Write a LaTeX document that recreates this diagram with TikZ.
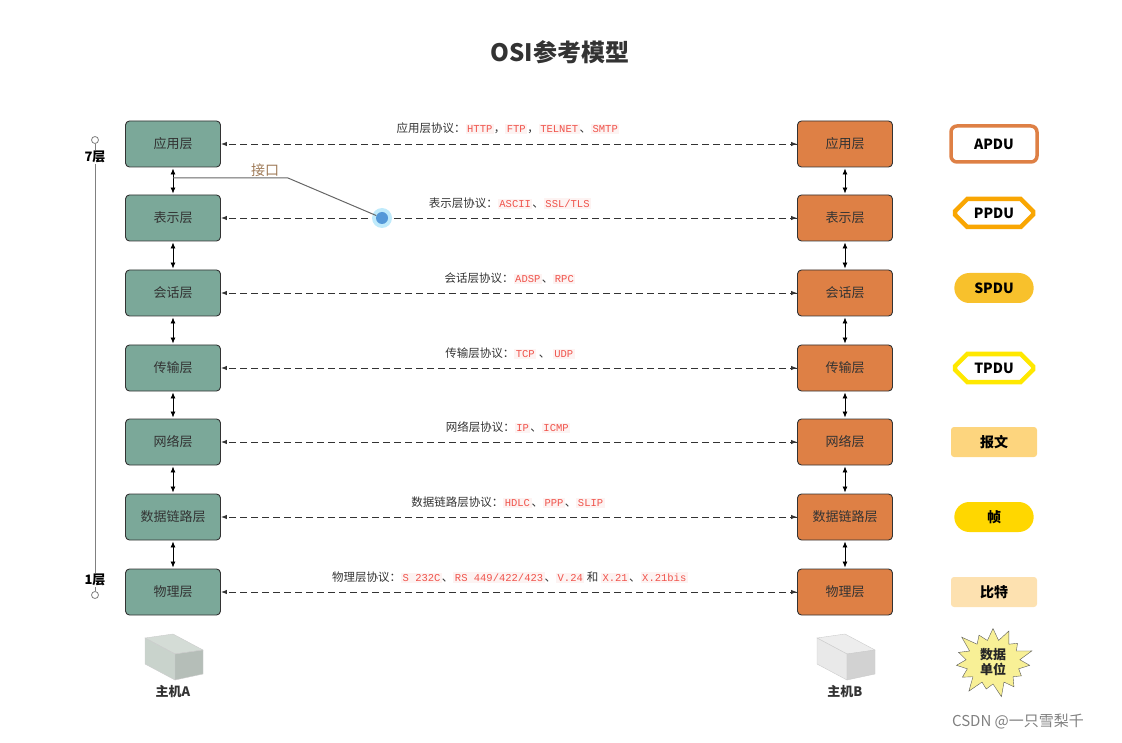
\documentclass[tikz,border=0pt]{standalone}
\usepackage{fontspec}
\setmainfont{Noto Sans CJK SC}
\newfontfamily\codefont{Liberation Mono}
\usetikzlibrary{shapes.misc,shapes.symbols,arrows.meta}
\definecolor{gbox}{HTML}{7BA899}
\definecolor{obox}{HTML}{DE8045}
\definecolor{codered}{HTML}{F0544C}
\definecolor{codebg}{HTML}{FDF3F2}
\definecolor{txt}{HTML}{333333}
\definecolor{hostA}{HTML}{C9D3CC}
\definecolor{hostB}{HTML}{E9E9E9}
\definecolor{ppdu}{HTML}{F9A602}
\definecolor{tpdu}{HTML}{FFE800}
\definecolor{spdu}{HTML}{F8C12C}
\definecolor{baow}{HTML}{FDD57E}
\definecolor{zhen}{HTML}{FFD700}
\definecolor{bite}{HTML}{FDE1B0}
\definecolor{starf}{HTML}{F8F096}
\setlength{\fboxsep}{1.5pt}
\tikzset{
 layer/.style={draw=txt,line width=0.9pt,rounded corners=4pt,minimum width=95pt,minimum height=46pt,font=\fontsize{13}{13}\selectfont,text=txt},
 lg/.style={layer,fill=gbox},
 lo/.style={layer,fill=obox},
 vlink/.style={{Latex[length=6pt,width=5pt]}-{Latex[length=6pt,width=5pt]},line width=0.8pt,shorten >=1pt,shorten <=1pt},
 hlink/.style={-{Latex[length=6pt]},dash pattern=on 7pt off 4pt,line width=0.9pt,txt},
 plabel/.style={font=\fontsize{11.5}{11.5}\selectfont,text=txt,inner sep=1pt},
 pdu/.style={minimum width=86pt,minimum height=30pt,font=\bfseries\fontsize{14}{14}\selectfont,text=black},
}
\newcommand{\cd}[1]{\colorbox{codebg}{\codefont\fontsize{10.5}{10.5}\selectfont\textcolor{codered}{#1}}}
\begin{document}
\begin{tikzpicture}[x=1pt,y=-1pt]
\useasboundingbox (0,0) rectangle (1122,743);
\node[font=\bfseries\fontsize{24}{24}\selectfont,text=txt] (title) at (560,52) {OSI参考模型};
\foreach \n/\t/\y in {1/应用层/144,2/表示层/218,3/会话层/293,4/传输层/368,5/网络层/442,6/数据链路层/517,7/物理层/592}{
 \node[lg] (L\n) at (173,\y) {\t};
 \node[lo] (R\n) at (845,\y) {\t};
}
\foreach \a/\b in {1/2,2/3,3/4,4/5,5/6,6/7}{
 \draw[vlink] (L\a) -- (L\b);
 \draw[vlink] (R\a) -- (R\b);
}
\foreach \n in {1,...,7}{
 \draw[hlink] (R\n.west) -- (L\n.east);
 \draw[-{Latex[length=6pt]},line width=0.9pt,txt] ([xshift=-7pt]R\n.west) -- (R\n.west);
}
\node[plabel] (p1) at (508,128) {应用层协议：\cd{HTTP}，\cd{FTP}，\cd{TELNET}、\cd{SMTP}};
\node[plabel] (p2) at (510,203) {表示层协议：\cd{ASCII}、\cd{SSL/TLS}};
\node[plabel] (p3) at (510,278) {会话层协议：\cd{ADSP}、\cd{RPC}};
\node[plabel] (p4) at (510,353) {传输层协议：\cd{TCP} 、 \cd{UDP}};
\node[plabel] (p5) at (508,427) {网络层协议：\cd{IP}、\cd{ICMP}};
\node[plabel] (p6) at (508,502) {数据链路层协议：\cd{HDLC}、\cd{PPP}、\cd{SLIP}};
\node[plabel] (p7) at (510,577) {物理层协议：\cd{S 232C}、\cd{RS 449/422/423}、\cd{V.24} 和 \cd{X.21}、\cd{X.21bis}};
% interface
\coordinate (if0) at (173,178);
\coordinate (if1) at (288,178);
\node[circle,fill=cyan!25,minimum size=20pt,inner sep=0] (dotg) at (382,218) {};
\node[circle,fill=cyan!60!blue!70,minimum size=12pt,inner sep=0] (dot) at (382,218) {};
\draw[line width=1pt,gray!80!black] (if0) -- (if1) -- (dot);
\node[font=\fontsize{14}{14}\selectfont,text=brown!70!black!80] (ifl) at (265,170) {接口};
% scale
\node[circle,draw=gray,inner sep=0,minimum size=7pt,line width=0.8pt] (top) at (95,140) {};
\node[circle,draw=gray,inner sep=0,minimum size=7pt,line width=0.8pt] (bot) at (95,595) {};
\draw[gray,line width=1pt] (top) -- (bot);
\node[fill=white,font=\bfseries\fontsize{13}{13}\selectfont,inner sep=1pt] (l7) at (95,157) {7层};
\node[fill=white,font=\bfseries\fontsize{13}{13}\selectfont,inner sep=1pt] (l1) at (95,580) {1层};
% PDUs
\node[pdu,draw=obox,line width=3.5pt,fill=white,rounded corners=6pt,minimum height=36pt,minimum width=86pt] (a) at (994,144) {APDU};
\node[pdu,chamfered rectangle,chamfered rectangle xsep=9pt,draw=ppdu,line width=4.5pt,fill=white,minimum width=78pt,minimum height=28pt] (b) at (994,213) {PPDU};
\node[pdu,rounded rectangle,fill=spdu] (c) at (994,288) {SPDU};
\node[pdu,chamfered rectangle,chamfered rectangle xsep=9pt,draw=tpdu,line width=4.5pt,fill=white,minimum width=78pt,minimum height=28pt] (d) at (994,368) {TPDU};
\node[pdu,fill=baow,rounded corners=3pt] (e) at (994,442) {报文};
\node[pdu,rounded rectangle,fill=zhen] (f) at (994,517) {帧};
\node[pdu,fill=bite,rounded corners=3pt] (g) at (994,592) {比特};
\node[starburst,starburst points=15,starburst point height=16pt,draw=gray!70!black,fill=starf,font=\bfseries\fontsize{13}{15}\selectfont,text=gray!30!black,align=center,inner sep=0pt,minimum width=86pt,minimum height=76pt] (h) at (993,662) {数据\\单位};
% hosts
\foreach \cx/\col/\nm/\lab in {173/hostA/A/主机A,845/hostB/B/主机B}{
 \begin{scope}[shift={(\cx,658)}]
  \fill[\col!80!white,draw=gray!40] (-28,-20) -- (0,-24) -- (30,-8) -- (2,-4) -- cycle;
  \fill[\col,draw=gray!40] (-28,-20) -- (2,-4) -- (2,22) -- (-28,6) -- cycle;
  \fill[\col!90!black,draw=gray!40] (2,-4) -- (30,-8) -- (30,16) -- (2,22) -- cycle;
 \end{scope}
 \node[font=\bfseries\fontsize{13}{13}\selectfont,text=txt] (h\nm) at (\cx,692) {\lab};
}
\node[font=\fontsize{15}{15}\selectfont,text=gray] (wm) at (1018,722) {CSDN @一只雪梨千};
\end{tikzpicture}
\end{document}
